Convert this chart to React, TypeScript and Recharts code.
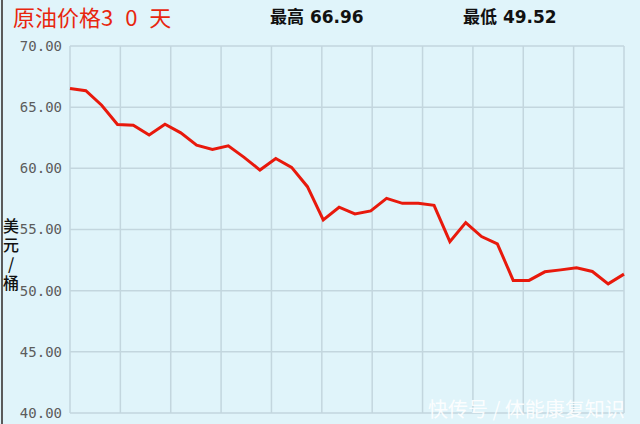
import { LineChart, Line, XAxis, YAxis, CartesianGrid } from 'recharts';

// closing price per trading day
const prices = [
  66.53, 66.35, 65.16, 63.59, 63.53, 62.72, 63.6, 62.9, 61.9, 61.55, 61.84, 60.9,
  59.86, 60.8, 60.08, 58.5, 55.78, 56.82, 56.27, 56.52, 57.55, 57.14, 57.14, 56.98,
  54.01, 55.56, 54.42, 53.83, 50.84, 50.84, 51.54, 51.7, 51.87, 51.57, 50.56, 51.35,
];
const priceTicks = [40, 45, 50, 55, 60, 65, 70];
// the plot is split into 11 equal columns
const gridColumns = [0, 1, 2, 3, 4, 5, 6, 7, 8, 9, 10, 11];

const title = '原油价格3 0 天';
const highText = '最高 66.96';
const lowText = '最低 49.52';
const unitText = '美元/桶';
const watermark = '快传号 / 体能康复知识';

const data = prices.map((price, i) => ({ day: i, price }));
const lastDay = prices.length - 1;
const columnTicks = gridColumns.map((c) => (c * lastDay) / gridColumns[gridColumns.length - 1]);

export default function App() {
  return (
    <div style={{
      position: 'absolute', left: 0, top: 0, width: 640, height: 424,
      background: '#e0f4fa', overflow: 'hidden',
    }}>
      <div style={{ position: 'absolute', left: 1, top: 0, width: 2, height: 424, background: '#5a5a5a' }} />
      <div style={{
        position: 'absolute', left: 13, top: 1, fontSize: 22, lineHeight: '30px', color: '#e8260e',
        fontFamily: '"Noto Sans CJK SC"', whiteSpace: 'pre', wordSpacing: 7,
      }}>
        {title}
      </div>
      <div style={{
        position: 'absolute', left: 270, top: 6, fontSize: 17, lineHeight: '22px', color: '#111',
        fontFamily: '"DejaVu Sans", "Noto Sans CJK SC"', fontWeight: 'bold', whiteSpace: 'pre',
      }}>
        {highText}
      </div>
      <div style={{
        position: 'absolute', left: 463, top: 6, fontSize: 17, lineHeight: '22px', color: '#111',
        fontFamily: '"DejaVu Sans", "Noto Sans CJK SC"', fontWeight: 'bold', whiteSpace: 'pre',
      }}>
        {lowText}
      </div>
      <LineChart width={640} height={424} data={data} margin={{ top: 46, right: 16, bottom: 11, left: 0 }}>
        <XAxis dataKey="day" type="number" domain={[0, lastDay]} ticks={columnTicks} interval={0} hide />
        <YAxis
          width={70}
          domain={[40, 70]}
          ticks={priceTicks}
          interval={0}
          tickFormatter={(v: number) => v.toFixed(2)}
          axisLine={false}
          tickLine={false}
          tickSize={0}
          tickMargin={8}
          tick={{ fontSize: 14, fill: '#5c5c5c', fontFamily: '"DejaVu Sans Mono"' }}
        />
        <CartesianGrid stroke="#c3d6de" strokeWidth={1.5} />
        <Line
          type="linear"
          dataKey="price"
          stroke="#e8190c"
          strokeWidth={3}
          dot={false}
          isAnimationActive={false}
        />
      </LineChart>
      <div style={{
        position: 'absolute', left: 3, top: 216, width: 16, fontSize: 16, lineHeight: '19px', color: '#111',
        fontFamily: '"Noto Sans CJK SC"', fontWeight: 500, textAlign: 'center', lineBreak: 'anywhere',
      }}>
        {unitText}
      </div>
      <div style={{
        position: 'absolute', left: 428, top: 396, fontSize: 20, lineHeight: '26px',
        color: 'rgba(255,255,255,0.9)', fontFamily: '"Noto Sans CJK SC"', whiteSpace: 'pre',
      }}>
        {watermark}
      </div>
    </div>
  );
}
